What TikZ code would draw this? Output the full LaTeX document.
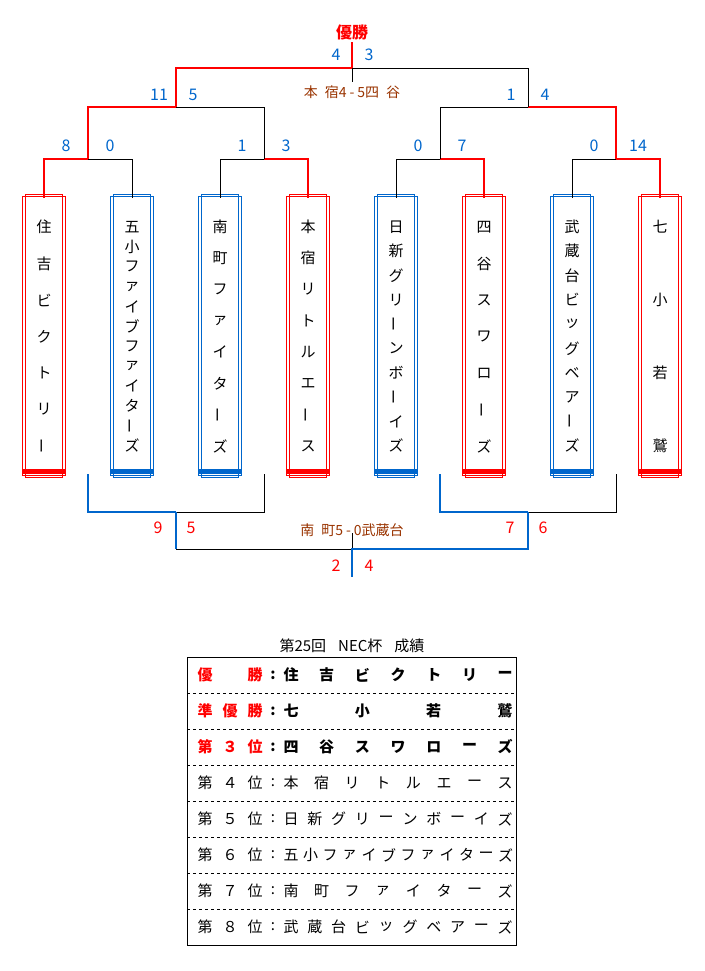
\documentclass[tikz,border=0pt]{standalone}
\usepackage{fontspec}
\newfontfamily\cjk{Noto Sans CJK JP}
\definecolor{jred}{RGB}{255,0,0}
\definecolor{jblue}{RGB}{0,102,204}
\definecolor{jbrown}{RGB}{153,51,0}
\newcommand\tate{\rotatebox[origin=c]{90}{ー}}
% vertical team name: x, step, characters
\newcommand\vname[3]{\foreach \ch [count=\i] in {#3} \node[kana] at ({#1},{227+(\i-1)*#2}) {\ch};}
% team name in the result table: y, step, characters
\newcommand\rname[3]{\foreach \ch [count=\i] in {#3} \node[kana] at ({291+(\i-1)*#2},{#1}) {\ch};}
\begin{document}
\begin{tikzpicture}[x=1pt,y=-1pt,
    win/.style={draw=jred,line width=2pt},
    lose/.style={draw=black,line width=0.8pt},
    third/.style={draw=jblue,line width=1.6pt},
    kana/.style={font=\cjk\fontsize{15}{16}\selectfont,inner sep=0pt},
    score/.style={font=\cjk\fontsize{16}{17}\selectfont,text=jblue,inner sep=0pt},
    rscore/.style={score,text=jred},
    result/.style={font=\cjk\fontsize{14}{15}\selectfont,text=jbrown,inner sep=0pt},
    team/.style={minimum width=44pt,minimum height=276pt,inner sep=0pt}]
  \useasboundingbox (0,0) rectangle (704,971);
  % teams
  \foreach \x/\col/\n in {44/jred/t1,132/jblue/t2,220/jblue/t3,308/jred/t4,396/jblue/t5,484/jred/t6,572/jblue/t7,660/jred/t8}{
    \node[team] (\n) at (\x,336) {};
    \draw[draw=\col,line width=1pt] ([shift={(1,1)}]\n.south west) rectangle ([shift={(-1,-1)}]\n.north east);
    \draw[draw=\col,line width=1pt] ([shift={(3.5,3.5)}]\n.south west) rectangle ([shift={(-3.5,-3.5)}]\n.north east);
    \fill[fill=\col] (\x-22,469) rectangle (\x+22,474);
  }
  \vname{44}{36.5}{住,吉,ビ,ク,ト,リ,\tate}
  \vname{132}{19.9}{五,小,フ,ァ,イ,ブ,フ,ァ,イ,タ,\tate,ズ}
  \vname{220}{31.3}{南,町,フ,ァ,イ,タ,\tate,ズ}
  \vname{308}{31.3}{本,宿,リ,ト,ル,エ,\tate,ス}
  \vname{396}{24.3}{日,新,グ,リ,\tate,ン,ボ,\tate,イ,ズ}
  \vname{484}{36.5}{四,谷,ス,ワ,ロ,\tate,ズ}
  \vname{572}{24.3}{武,蔵,台,ビ,ッ,グ,ベ,ア,\tate,ズ}
  \vname{660}{73}{七,小,若,鷲}
  % upper bracket
  \coordinate (m1) at (88,159);  \coordinate (m2) at (264,159);
  \coordinate (m3) at (440,159); \coordinate (m4) at (616,159);
  \coordinate (s1) at (176,107); \coordinate (s2) at (528,107);
  \coordinate (f) at (352,68);   \coordinate (top) at (352,42);
  \coordinate (stub) at (352,82);
  \draw[lose] (t2.north) |- (m1);  \draw[win] (t1.north) |- (m1);
  \draw[lose] (t3.north) |- (m2);  \draw[win] (t4.north) |- (m2);
  \draw[lose] (t5.north) |- (m3);  \draw[win] (t6.north) |- (m3);
  \draw[lose] (t7.north) |- (m4);  \draw[win] (t8.north) |- (m4);
  \draw[lose] (m2) |- (s1);        \draw[win] (m1) |- (s1);
  \draw[lose] (m3) |- (s2);        \draw[win] (m4) |- (s2);
  \draw[lose] (s2) |- (f);         \draw[win] (s1) |- (f);
  \draw[lose] (f) -- (stub);
  \draw[win] (f) -- (top);
  \node[font=\cjk\bfseries\fontsize{16}{17}\selectfont,text=jred] (champ) at (352,32) {優勝};
  \foreach \x/\a/\b in {88/8/0,264/1/3,440/0/7,616/0/14}{
    \node[score] at (\x-22,146) {\a};
    \node[score] at (\x+22,146) {\b};
  }
  \foreach \x/\a/\b in {176/11/5,528/1/4}{
    \node[score] at (\x-17,95) {\a};
    \node[score] at (\x+17,95) {\b};
  }
  \node[score] at (336,55) {4};
  \node[score] at (369,55) {3};
  \node[result] (semi) at (352,92) {本\hspace{7pt}宿4\hspace{3pt}-\hspace{3pt}5四\hspace{7pt}谷};
  % lower bracket
  \coordinate (u1) at (88,474);  \coordinate (u2) at (264,474);
  \coordinate (u3) at (440,474); \coordinate (u4) at (616,474);
  \coordinate (b1) at (176,512); \coordinate (b2) at (528,512);
  \coordinate (c) at (352,549);  \coordinate (cl) at (176,549);
  \coordinate (bot) at (352,577); \coordinate (cstub) at (352,533);
  \draw[lose] (u2) |- (b1);  \draw[third] (u1) |- (b1);
  \draw[lose] (u4) |- (b2);  \draw[third] (u3) |- (b2);
  \draw[lose] (cl) -- (c) -- (cstub);
  \draw[third] (b1) -- (cl);
  \draw[third] (b2) |- (c) -- (bot);
  \foreach \x/\a/\b in {176/9/5,528/7/6}{
    \node[rscore] at (\x-18,528) {\a};
    \node[rscore] at (\x+15,528) {\b};
  }
  \node[rscore] at (336,566) {2};
  \node[rscore] at (369,566) {4};
  \node[result] (cons) at (352,530) {南\hspace{7pt}町5\hspace{3pt}-\hspace{3pt}0武蔵台};
  % result table
  \node[font=\cjk\fontsize{15}{16}\selectfont] (title) at (352,646) {第25回\hspace{12pt}NEC杯\hspace{12pt}成績};
  \draw[line width=0.8pt] (187,657) rectangle (516,945);
  \foreach \k in {1,...,7} \draw[dashed,line width=0.6pt] (187,{657+36*\k}) -- (516,{657+36*\k});
  \foreach \y in {783,819,855,891,927} \node[kana] at (273,\y) {:};
  \foreach \y/\n in {783/４,819/５,855/６,891/７,927/８}{
    \node[kana] at (205,\y) {第};
    \node[kana] at (230,\y) {\n};
    \node[kana] at (255,\y) {位};
  }
  \begin{scope}[kana/.append style={font=\cjk\bfseries\fontsize{15}{16}\selectfont}]
    \foreach \y in {675,711,747} \node[kana] at (273,\y) {:};
    \node[kana,text=jred] at (205,675) {優};
    \node[kana,text=jred] at (255,675) {勝};
    \node[kana,text=jred] at (205,711) {準};
    \node[kana,text=jred] at (230,711) {優};
    \node[kana,text=jred] at (255,711) {勝};
    \node[kana,text=jred] at (205,747) {第};
    \node[kana,text=jred] at (230,747) {３};
    \node[kana,text=jred] at (255,747) {位};
    \rname{675}{35.7}{住,吉,ビ,ク,ト,リ,ー}
    \rname{711}{71.3}{七,小,若,鷲}
    \rname{747}{35.7}{四,谷,ス,ワ,ロ,ー,ズ}
  \end{scope}
  \rname{783}{30.6}{本,宿,リ,ト,ル,エ,ー,ス}
  \rname{819}{23.8}{日,新,グ,リ,ー,ン,ボ,ー,イ,ズ}
  \rname{855}{19.5}{五,小,フ,ァ,イ,ブ,フ,ァ,イ,タ,ー,ズ}
  \rname{891}{30.6}{南,町,フ,ァ,イ,タ,ー,ズ}
  \rname{927}{23.8}{武,蔵,台,ビ,ッ,グ,ベ,ア,ー,ズ}
\end{tikzpicture}
\end{document}
